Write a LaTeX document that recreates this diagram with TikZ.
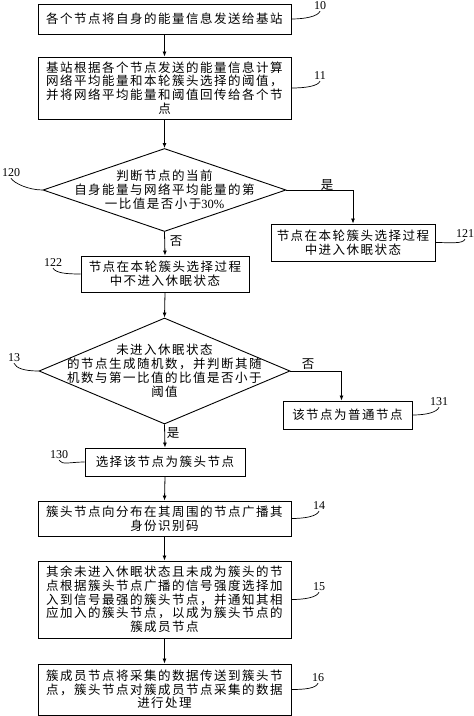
\documentclass[tikz,border=0pt]{standalone}
\usepackage{fontspec}
\setmainfont{Liberation Serif}
\newfontfamily\cjk[LetterSpace=12]{Noto Sans CJK SC}
\usetikzlibrary{arrows.meta,shapes.geometric}
\begin{document}
\begin{tikzpicture}[x=1bp,y=-1bp,
  box/.style={draw, line width=0.9bp, inner sep=0pt, align=center,
    font=\cjk\fontsize{12.5bp}{13.7bp}\selectfont},
  dia/.style={draw, diamond, line width=0.9bp, inner sep=0pt},
  dtext/.style={inner sep=0pt, align=center, font=\cjk\fontsize{12.5bp}{13.9bp}\selectfont},
  yn/.style={inner sep=0pt, font=\cjk\fontsize{12.5bp}{13.7bp}\selectfont},
  num/.style={inner sep=1bp, font=\fontsize{12bp}{12bp}\selectfont},
  arr/.style={-{Latex[length=5bp,width=4bp]}, line width=0.8bp},
  leader/.style={line width=0.7bp}]
\useasboundingbox (0,0) rectangle (474,716);

% boxes
\node[box, minimum width=253bp, minimum height=30bp] (b10) at (164.5,19)
  {各个节点将自身的能量信息发送给基站};
\node[box, minimum width=253bp, minimum height=62bp] (b11) at (164.5,88)
  {基站根据各个节点发送的能量信息计算\\网络平均能量和本轮簇头选择的阈值，\\并将网络平均能量和阈值回传给各个节\\点};
\node[dia, minimum width=243bp, minimum height=83bp] (d120) at (164.5,190) {};
\node[dtext] (t120) at (d120.center)
  {判断节点的当前\\自身能量与网络平均能量的第\\一比值是否小于{\rmfamily 30\%}};
\node[box, minimum width=164bp, minimum height=37bp] (b121) at (353,242.5)
  {节点在本轮簇头选择过程\\中进入休眠状态};
\node[box, minimum width=168bp, minimum height=36bp] (b122) at (165,274)
  {节点在本轮簇头选择过程\\中不进入休眠状态};
\node[dia, minimum width=251bp, minimum height=106bp] (d13) at (164.5,371) {};
\node[dtext] (t13) at (d13.center)
  {未进入休眠状态\\的节点生成随机数，并判断其随\\机数与第一比值的比值是否小于\\阈值};
\node[box, minimum width=129bp, minimum height=28bp] (b131) at (347.5,415)
  {该节点为普通节点};
\node[box, minimum width=160bp, minimum height=28bp] (b130) at (165,462)
  {选择该节点为簇头节点};
\node[box, minimum width=253bp, minimum height=35bp] (b14) at (164.5,518.5)
  {簇头节点向分布在其周围的节点广播其\\身份识别码};
\node[box, minimum width=253bp, minimum height=77bp] (b15) at (164.5,599.5)
  {其余未进入休眠状态且未成为簇头的节\\点根据簇头节点广播的信号强度选择加\\入到信号最强的簇头节点，并通知其相\\应加入的簇头节点，以成为簇头节点的\\簇成员节点};
\node[box, minimum width=253bp, minimum height=51bp] (b16) at (164.5,689.5)
  {簇成员节点将采集的数据传送到簇头节\\点，簇头节点对簇成员节点采集的数据\\进行处理};

% connectors
\draw[arr] (b10.south) -- (b11.north);
\draw[arr] (b11.south) -- (d120.north);
\draw[arr] (d120.east) -| (b121.north);
\draw[arr] (d120.south) -- (b122.north);
\draw[arr] (b122.south) -- (d13.north);
\draw[arr] (d13.east) -| ([xshift=-6bp]b131.north);
\draw[arr] (d13.south) -- (b130.north);
\draw[arr] (b130.south) -- (b14.north);
\draw[arr] (b14.south) -- (b15.north);
\draw[arr] (b15.south) -- (b16.north);

% yes / no
\node[yn] (y1) at (327,185) {是};
\node[yn] (n1) at (176,241) {否};
\node[yn] (n2) at (308,364) {否};
\node[yn] (y2) at (173,433) {是};

% reference numbers
\node[num] (l10) at (320,6) {10};
\node[num] (l11) at (320,76) {11};
\node[num] (l120) at (11,173) {120};
\node[num] (l121) at (465,234) {121};
\node[num] (l122) at (53,263) {122};
\node[num] (l13) at (14,358) {13};
\node[num] (l131) at (439,402) {131};
\node[num] (l130) at (59,455) {130};
\node[num] (l14) at (319,506) {14};
\node[num] (l15) at (319,587) {15};
\node[num] (l16) at (318,678) {16};

\draw[leader] (b10.east) .. controls +(14,0) and +(-2,5) .. (l10.south);
\draw[leader] (b11.east) .. controls +(14,0) and +(-2,5) .. (l11.south);
\draw[leader] (d120.west) .. controls +(-14,0) and +(3,5) .. (l120.south);
\draw[leader] (b121.east) .. controls +(14,0) and +(-2,5) .. (l121.south);
\draw[leader] (b122.west) .. controls +(-14,0) and +(3,5) .. (l122.south);
\draw[leader] (d13.west) .. controls +(-14,0) and +(2,5) .. (l13.south);
\draw[leader] (b131.east) .. controls +(14,0) and +(-2,5) .. (l131.south);
\draw[leader] (b130.west) .. controls +(-14,0) and +(3,5) .. (l130.south);
\draw[leader] (b14.east) .. controls +(14,0) and +(-2,5) .. (l14.south);
\draw[leader] (b15.east) .. controls +(14,0) and +(-2,5) .. (l15.south);
\draw[leader] (b16.east) .. controls +(14,0) and +(-2,5) .. (l16.south);
\end{tikzpicture}
\end{document}
